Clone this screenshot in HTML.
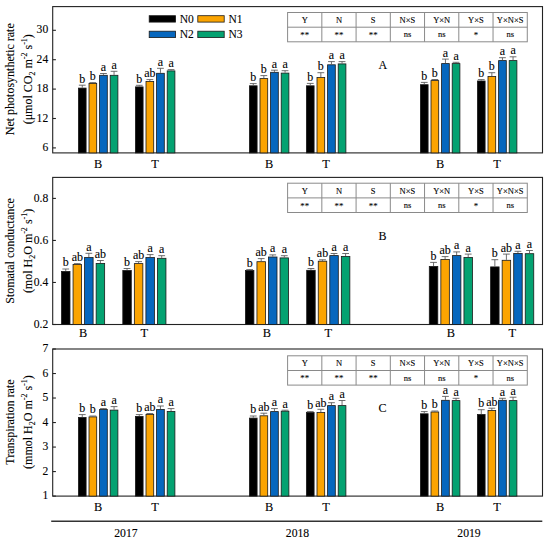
<!DOCTYPE html>
<html><head><meta charset="utf-8"><style>
html,body{margin:0;padding:0;background:#fff;width:550px;height:542px;overflow:hidden}
svg{display:block;font-family:"Liberation Serif",serif} text{stroke:#000;stroke-width:0.1px}
</style></head><body>
<svg width="550" height="542" viewBox="0 0 550 542" fill="#000">
<rect width="550" height="542" fill="#fff"/>
<rect x="52.7" y="6.6" width="489.8" height="146.3" fill="none" stroke="#222" stroke-width="1.1"/>
<line x1="52.7" y1="147.90" x2="55.9" y2="147.90" stroke="#222" stroke-width="1.1"/>
<text x="48.2" y="151.00" font-size="11.6" text-anchor="end">6</text>
<line x1="52.7" y1="118.50" x2="55.9" y2="118.50" stroke="#222" stroke-width="1.1"/>
<text x="48.2" y="121.60" font-size="11.6" text-anchor="end">12</text>
<line x1="52.7" y1="89.10" x2="55.9" y2="89.10" stroke="#222" stroke-width="1.1"/>
<text x="48.2" y="92.20" font-size="11.6" text-anchor="end">18</text>
<line x1="52.7" y1="59.70" x2="55.9" y2="59.70" stroke="#222" stroke-width="1.1"/>
<text x="48.2" y="62.80" font-size="11.6" text-anchor="end">24</text>
<line x1="52.7" y1="30.30" x2="55.9" y2="30.30" stroke="#222" stroke-width="1.1"/>
<text x="48.2" y="33.40" font-size="11.6" text-anchor="end">30</text>
<g stroke="#8a8a8a" stroke-width="1">
<rect x="287.6" y="12.5" width="239.68" height="29.30" fill="none"/>
<line x1="287.6" y1="27.20" x2="527.28" y2="27.20"/>
<line x1="321.84" y1="12.5" x2="321.84" y2="41.80"/>
<line x1="356.08" y1="12.5" x2="356.08" y2="41.80"/>
<line x1="390.32" y1="12.5" x2="390.32" y2="41.80"/>
<line x1="424.56" y1="12.5" x2="424.56" y2="41.80"/>
<line x1="458.80" y1="12.5" x2="458.80" y2="41.80"/>
<line x1="493.04" y1="12.5" x2="493.04" y2="41.80"/>
</g>
<text x="304.72" y="22.90" font-size="8.5" text-anchor="middle">Y</text>
<text x="304.72" y="37.80" font-size="8.8" text-anchor="middle">**</text>
<text x="338.96" y="22.90" font-size="8.5" text-anchor="middle">N</text>
<text x="338.96" y="37.80" font-size="8.8" text-anchor="middle">**</text>
<text x="373.20" y="22.90" font-size="8.5" text-anchor="middle">S</text>
<text x="373.20" y="37.80" font-size="8.8" text-anchor="middle">**</text>
<text x="407.44" y="22.90" font-size="8.5" text-anchor="middle">N×S</text>
<text x="407.44" y="37.40" font-size="8.5" text-anchor="middle">ns</text>
<text x="441.68" y="22.90" font-size="8.5" text-anchor="middle">Y×N</text>
<text x="441.68" y="37.40" font-size="8.5" text-anchor="middle">ns</text>
<text x="475.92" y="22.90" font-size="8.5" text-anchor="middle">Y×S</text>
<text x="475.92" y="37.80" font-size="8.8" text-anchor="middle">*</text>
<text x="510.16" y="22.90" font-size="8.5" text-anchor="middle">Y×N×S</text>
<text x="510.16" y="37.40" font-size="8.5" text-anchor="middle">ns</text>
<rect x="78.40" y="88.10" width="7.70" height="64.80" fill="#000000" stroke="#1a1a1a" stroke-width="0.8"/>
<line x1="82.25" y1="85.20" x2="82.25" y2="87.70" stroke="#555" stroke-width="0.85"/>
<line x1="78.85" y1="85.20" x2="85.65" y2="85.20" stroke="#555" stroke-width="0.85"/>
<text x="82.25" y="82.60" font-size="12" text-anchor="middle">b</text>
<rect x="89.00" y="83.40" width="7.70" height="69.50" fill="#FBA401" stroke="#1a1a1a" stroke-width="0.8"/>
<line x1="92.85" y1="82.60" x2="92.85" y2="83.00" stroke="#555" stroke-width="0.85"/>
<line x1="89.45" y1="82.60" x2="96.25" y2="82.60" stroke="#555" stroke-width="0.85"/>
<text x="92.85" y="80.00" font-size="12" text-anchor="middle">b</text>
<rect x="99.60" y="75.30" width="7.70" height="77.60" fill="#0667BE" stroke="#1a1a1a" stroke-width="0.8"/>
<line x1="103.45" y1="73.50" x2="103.45" y2="74.90" stroke="#555" stroke-width="0.85"/>
<line x1="100.05" y1="73.50" x2="106.85" y2="73.50" stroke="#555" stroke-width="0.85"/>
<text x="103.45" y="70.90" font-size="12" text-anchor="middle">a</text>
<rect x="110.20" y="75.30" width="7.70" height="77.60" fill="#04A271" stroke="#1a1a1a" stroke-width="0.8"/>
<line x1="114.05" y1="71.30" x2="114.05" y2="74.90" stroke="#555" stroke-width="0.85"/>
<line x1="110.65" y1="71.30" x2="117.45" y2="71.30" stroke="#555" stroke-width="0.85"/>
<text x="114.05" y="68.70" font-size="12" text-anchor="middle">a</text>
<rect x="135.40" y="86.90" width="7.70" height="66.00" fill="#000000" stroke="#1a1a1a" stroke-width="0.8"/>
<line x1="139.25" y1="85.30" x2="139.25" y2="86.50" stroke="#555" stroke-width="0.85"/>
<line x1="135.85" y1="85.30" x2="142.65" y2="85.30" stroke="#555" stroke-width="0.85"/>
<text x="139.25" y="82.70" font-size="12" text-anchor="middle">b</text>
<rect x="146.00" y="81.40" width="7.70" height="71.50" fill="#FBA401" stroke="#1a1a1a" stroke-width="0.8"/>
<line x1="149.85" y1="79.60" x2="149.85" y2="81.00" stroke="#555" stroke-width="0.85"/>
<line x1="146.45" y1="79.60" x2="153.25" y2="79.60" stroke="#555" stroke-width="0.85"/>
<text x="149.85" y="77.00" font-size="12" text-anchor="middle">ab</text>
<rect x="156.60" y="73.30" width="7.70" height="79.60" fill="#0667BE" stroke="#1a1a1a" stroke-width="0.8"/>
<line x1="160.45" y1="68.30" x2="160.45" y2="72.90" stroke="#555" stroke-width="0.85"/>
<line x1="157.05" y1="68.30" x2="163.85" y2="68.30" stroke="#555" stroke-width="0.85"/>
<text x="160.45" y="65.70" font-size="12" text-anchor="middle">a</text>
<rect x="167.20" y="70.90" width="7.70" height="82.00" fill="#04A271" stroke="#1a1a1a" stroke-width="0.8"/>
<line x1="171.05" y1="69.60" x2="171.05" y2="70.50" stroke="#555" stroke-width="0.85"/>
<line x1="167.65" y1="69.60" x2="174.45" y2="69.60" stroke="#555" stroke-width="0.85"/>
<text x="171.05" y="67.00" font-size="12" text-anchor="middle">a</text>
<rect x="249.40" y="85.80" width="7.70" height="67.10" fill="#000000" stroke="#1a1a1a" stroke-width="0.8"/>
<line x1="253.25" y1="83.60" x2="253.25" y2="85.40" stroke="#555" stroke-width="0.85"/>
<line x1="249.85" y1="83.60" x2="256.65" y2="83.60" stroke="#555" stroke-width="0.85"/>
<text x="253.25" y="81.00" font-size="12" text-anchor="middle">b</text>
<rect x="260.00" y="78.60" width="7.70" height="74.30" fill="#FBA401" stroke="#1a1a1a" stroke-width="0.8"/>
<line x1="263.85" y1="75.60" x2="263.85" y2="78.20" stroke="#555" stroke-width="0.85"/>
<line x1="260.45" y1="75.60" x2="267.25" y2="75.60" stroke="#555" stroke-width="0.85"/>
<text x="263.85" y="73.00" font-size="12" text-anchor="middle">b</text>
<rect x="270.60" y="72.30" width="7.70" height="80.60" fill="#0667BE" stroke="#1a1a1a" stroke-width="0.8"/>
<line x1="274.45" y1="70.20" x2="274.45" y2="71.90" stroke="#555" stroke-width="0.85"/>
<line x1="271.05" y1="70.20" x2="277.85" y2="70.20" stroke="#555" stroke-width="0.85"/>
<text x="274.45" y="67.60" font-size="12" text-anchor="middle">a</text>
<rect x="281.20" y="73.10" width="7.70" height="79.80" fill="#04A271" stroke="#1a1a1a" stroke-width="0.8"/>
<line x1="285.05" y1="70.70" x2="285.05" y2="72.70" stroke="#555" stroke-width="0.85"/>
<line x1="281.65" y1="70.70" x2="288.45" y2="70.70" stroke="#555" stroke-width="0.85"/>
<text x="285.05" y="68.10" font-size="12" text-anchor="middle">a</text>
<rect x="306.40" y="85.80" width="7.70" height="67.10" fill="#000000" stroke="#1a1a1a" stroke-width="0.8"/>
<line x1="310.25" y1="83.40" x2="310.25" y2="85.40" stroke="#555" stroke-width="0.85"/>
<line x1="306.85" y1="83.40" x2="313.65" y2="83.40" stroke="#555" stroke-width="0.85"/>
<text x="310.25" y="80.80" font-size="12" text-anchor="middle">b</text>
<rect x="317.00" y="77.50" width="7.70" height="75.40" fill="#FBA401" stroke="#1a1a1a" stroke-width="0.8"/>
<line x1="320.85" y1="72.70" x2="320.85" y2="77.10" stroke="#555" stroke-width="0.85"/>
<line x1="317.45" y1="72.70" x2="324.25" y2="72.70" stroke="#555" stroke-width="0.85"/>
<text x="320.85" y="70.10" font-size="12" text-anchor="middle">b</text>
<rect x="327.60" y="64.80" width="7.70" height="88.10" fill="#0667BE" stroke="#1a1a1a" stroke-width="0.8"/>
<line x1="331.45" y1="61.60" x2="331.45" y2="64.40" stroke="#555" stroke-width="0.85"/>
<line x1="328.05" y1="61.60" x2="334.85" y2="61.60" stroke="#555" stroke-width="0.85"/>
<text x="331.45" y="59.00" font-size="12" text-anchor="middle">a</text>
<rect x="338.20" y="63.90" width="7.70" height="89.00" fill="#04A271" stroke="#1a1a1a" stroke-width="0.8"/>
<line x1="342.05" y1="61.60" x2="342.05" y2="63.50" stroke="#555" stroke-width="0.85"/>
<line x1="338.65" y1="61.60" x2="345.45" y2="61.60" stroke="#555" stroke-width="0.85"/>
<text x="342.05" y="59.00" font-size="12" text-anchor="middle">a</text>
<rect x="420.40" y="84.70" width="7.70" height="68.20" fill="#000000" stroke="#1a1a1a" stroke-width="0.8"/>
<line x1="424.25" y1="82.40" x2="424.25" y2="84.30" stroke="#555" stroke-width="0.85"/>
<line x1="420.85" y1="82.40" x2="427.65" y2="82.40" stroke="#555" stroke-width="0.85"/>
<text x="424.25" y="79.80" font-size="12" text-anchor="middle">b</text>
<rect x="431.00" y="80.60" width="7.70" height="72.30" fill="#FBA401" stroke="#1a1a1a" stroke-width="0.8"/>
<line x1="434.85" y1="79.50" x2="434.85" y2="80.20" stroke="#555" stroke-width="0.85"/>
<line x1="431.45" y1="79.50" x2="438.25" y2="79.50" stroke="#555" stroke-width="0.85"/>
<text x="434.85" y="76.90" font-size="12" text-anchor="middle">b</text>
<rect x="441.60" y="63.60" width="7.70" height="89.30" fill="#0667BE" stroke="#1a1a1a" stroke-width="0.8"/>
<line x1="445.45" y1="59.10" x2="445.45" y2="63.20" stroke="#555" stroke-width="0.85"/>
<line x1="442.05" y1="59.10" x2="448.85" y2="59.10" stroke="#555" stroke-width="0.85"/>
<text x="445.45" y="56.50" font-size="12" text-anchor="middle">a</text>
<rect x="452.20" y="63.60" width="7.70" height="89.30" fill="#04A271" stroke="#1a1a1a" stroke-width="0.8"/>
<line x1="456.05" y1="62.30" x2="456.05" y2="63.20" stroke="#555" stroke-width="0.85"/>
<line x1="452.65" y1="62.30" x2="459.45" y2="62.30" stroke="#555" stroke-width="0.85"/>
<text x="456.05" y="59.70" font-size="12" text-anchor="middle">a</text>
<rect x="477.40" y="81.00" width="7.70" height="71.90" fill="#000000" stroke="#1a1a1a" stroke-width="0.8"/>
<line x1="481.25" y1="79.60" x2="481.25" y2="80.60" stroke="#555" stroke-width="0.85"/>
<line x1="477.85" y1="79.60" x2="484.65" y2="79.60" stroke="#555" stroke-width="0.85"/>
<text x="481.25" y="77.00" font-size="12" text-anchor="middle">b</text>
<rect x="488.00" y="76.40" width="7.70" height="76.50" fill="#FBA401" stroke="#1a1a1a" stroke-width="0.8"/>
<line x1="491.85" y1="72.70" x2="491.85" y2="76.00" stroke="#555" stroke-width="0.85"/>
<line x1="488.45" y1="72.70" x2="495.25" y2="72.70" stroke="#555" stroke-width="0.85"/>
<text x="491.85" y="70.10" font-size="12" text-anchor="middle">b</text>
<rect x="498.60" y="60.60" width="7.70" height="92.30" fill="#0667BE" stroke="#1a1a1a" stroke-width="0.8"/>
<line x1="502.45" y1="57.70" x2="502.45" y2="60.20" stroke="#555" stroke-width="0.85"/>
<line x1="499.05" y1="57.70" x2="505.85" y2="57.70" stroke="#555" stroke-width="0.85"/>
<text x="502.45" y="55.10" font-size="12" text-anchor="middle">a</text>
<rect x="509.20" y="60.60" width="7.70" height="92.30" fill="#04A271" stroke="#1a1a1a" stroke-width="0.8"/>
<line x1="513.05" y1="56.80" x2="513.05" y2="60.20" stroke="#555" stroke-width="0.85"/>
<line x1="509.65" y1="56.80" x2="516.45" y2="56.80" stroke="#555" stroke-width="0.85"/>
<text x="513.05" y="54.20" font-size="12" text-anchor="middle">a</text>
<text x="98.15" y="167.70" font-size="12.4" text-anchor="middle">B</text>
<text x="155.15" y="167.70" font-size="12.4" text-anchor="middle">T</text>
<text x="269.15" y="167.70" font-size="12.4" text-anchor="middle">B</text>
<text x="326.15" y="167.70" font-size="12.4" text-anchor="middle">T</text>
<text x="440.15" y="167.70" font-size="12.4" text-anchor="middle">B</text>
<text x="497.15" y="167.70" font-size="12.4" text-anchor="middle">T</text>
<text x="378.6" y="68.60" font-size="12">A</text>
<text transform="translate(14.4,79.25) rotate(-90)" font-size="12" text-anchor="middle">Net photosynthetic rate</text>
<text transform="translate(31.6,79.25) rotate(-90)" font-size="12" text-anchor="middle">(μmol CO<tspan font-size="8" dy="3">2</tspan><tspan dy="-3">​</tspan> m<tspan font-size="8" dy="-4.5">-2</tspan><tspan dy="4.5"> s</tspan><tspan font-size="8" dy="-4.5">-1</tspan><tspan dy="4.5">)</tspan></text>
<rect x="149.20" y="15.70" width="26.4" height="6.4" fill="#000000" stroke="#1a1a1a" stroke-width="0.8"/>
<text x="179.80" y="22.70" font-size="11.5">N0</text>
<rect x="197.80" y="15.70" width="26.4" height="6.4" fill="#FBA401" stroke="#1a1a1a" stroke-width="0.8"/>
<text x="228.40" y="22.70" font-size="11.5">N1</text>
<rect x="149.20" y="31.20" width="26.4" height="6.4" fill="#0667BE" stroke="#1a1a1a" stroke-width="0.8"/>
<text x="179.80" y="38.20" font-size="11.5">N2</text>
<rect x="197.80" y="31.20" width="26.4" height="6.4" fill="#04A271" stroke="#1a1a1a" stroke-width="0.8"/>
<text x="228.40" y="38.20" font-size="11.5">N3</text>
<rect x="52.7" y="177.4" width="489.8" height="147.1" fill="none" stroke="#222" stroke-width="1.1"/>
<line x1="52.7" y1="324.50" x2="55.9" y2="324.50" stroke="#222" stroke-width="1.1"/>
<text x="48.2" y="327.60" font-size="11.6" text-anchor="end">0.2</text>
<line x1="52.7" y1="282.47" x2="55.9" y2="282.47" stroke="#222" stroke-width="1.1"/>
<text x="48.2" y="285.57" font-size="11.6" text-anchor="end">0.4</text>
<line x1="52.7" y1="240.44" x2="55.9" y2="240.44" stroke="#222" stroke-width="1.1"/>
<text x="48.2" y="243.54" font-size="11.6" text-anchor="end">0.6</text>
<line x1="52.7" y1="198.41" x2="55.9" y2="198.41" stroke="#222" stroke-width="1.1"/>
<text x="48.2" y="201.51" font-size="11.6" text-anchor="end">0.8</text>
<g stroke="#8a8a8a" stroke-width="1">
<rect x="287.6" y="183.20000000000002" width="239.68" height="29.30" fill="none"/>
<line x1="287.6" y1="197.90" x2="527.28" y2="197.90"/>
<line x1="321.84" y1="183.20000000000002" x2="321.84" y2="212.50"/>
<line x1="356.08" y1="183.20000000000002" x2="356.08" y2="212.50"/>
<line x1="390.32" y1="183.20000000000002" x2="390.32" y2="212.50"/>
<line x1="424.56" y1="183.20000000000002" x2="424.56" y2="212.50"/>
<line x1="458.80" y1="183.20000000000002" x2="458.80" y2="212.50"/>
<line x1="493.04" y1="183.20000000000002" x2="493.04" y2="212.50"/>
</g>
<text x="304.72" y="193.60" font-size="8.5" text-anchor="middle">Y</text>
<text x="304.72" y="208.50" font-size="8.8" text-anchor="middle">**</text>
<text x="338.96" y="193.60" font-size="8.5" text-anchor="middle">N</text>
<text x="338.96" y="208.50" font-size="8.8" text-anchor="middle">**</text>
<text x="373.20" y="193.60" font-size="8.5" text-anchor="middle">S</text>
<text x="373.20" y="208.50" font-size="8.8" text-anchor="middle">**</text>
<text x="407.44" y="193.60" font-size="8.5" text-anchor="middle">N×S</text>
<text x="407.44" y="208.10" font-size="8.5" text-anchor="middle">ns</text>
<text x="441.68" y="193.60" font-size="8.5" text-anchor="middle">Y×N</text>
<text x="441.68" y="208.10" font-size="8.5" text-anchor="middle">ns</text>
<text x="475.92" y="193.60" font-size="8.5" text-anchor="middle">Y×S</text>
<text x="475.92" y="208.50" font-size="8.8" text-anchor="middle">*</text>
<text x="510.16" y="193.60" font-size="8.5" text-anchor="middle">Y×N×S</text>
<text x="510.16" y="208.10" font-size="8.5" text-anchor="middle">ns</text>
<rect x="61.50" y="271.40" width="8.50" height="53.10" fill="#000000" stroke="#1a1a1a" stroke-width="0.8"/>
<line x1="65.75" y1="269.00" x2="65.75" y2="271.00" stroke="#555" stroke-width="0.85"/>
<line x1="62.35" y1="269.00" x2="69.15" y2="269.00" stroke="#555" stroke-width="0.85"/>
<text x="65.75" y="266.40" font-size="12" text-anchor="middle">b</text>
<rect x="73.05" y="264.50" width="8.50" height="60.00" fill="#FBA401" stroke="#1a1a1a" stroke-width="0.8"/>
<line x1="77.30" y1="263.60" x2="77.30" y2="264.10" stroke="#555" stroke-width="0.85"/>
<line x1="73.90" y1="263.60" x2="80.70" y2="263.60" stroke="#555" stroke-width="0.85"/>
<text x="77.30" y="261.00" font-size="12" text-anchor="middle">ab</text>
<rect x="84.60" y="257.50" width="8.50" height="67.00" fill="#0667BE" stroke="#1a1a1a" stroke-width="0.8"/>
<line x1="88.85" y1="253.30" x2="88.85" y2="257.10" stroke="#555" stroke-width="0.85"/>
<line x1="85.45" y1="253.30" x2="92.25" y2="253.30" stroke="#555" stroke-width="0.85"/>
<text x="88.85" y="250.70" font-size="12" text-anchor="middle">a</text>
<rect x="96.15" y="263.40" width="8.50" height="61.10" fill="#04A271" stroke="#1a1a1a" stroke-width="0.8"/>
<line x1="100.40" y1="260.50" x2="100.40" y2="263.00" stroke="#555" stroke-width="0.85"/>
<line x1="97.00" y1="260.50" x2="103.80" y2="260.50" stroke="#555" stroke-width="0.85"/>
<text x="100.40" y="257.90" font-size="12" text-anchor="middle">ab</text>
<rect x="122.80" y="270.50" width="8.50" height="54.00" fill="#000000" stroke="#1a1a1a" stroke-width="0.8"/>
<line x1="127.05" y1="268.50" x2="127.05" y2="270.10" stroke="#555" stroke-width="0.85"/>
<line x1="123.65" y1="268.50" x2="130.45" y2="268.50" stroke="#555" stroke-width="0.85"/>
<text x="127.05" y="265.90" font-size="12" text-anchor="middle">b</text>
<rect x="134.35" y="263.60" width="8.50" height="60.90" fill="#FBA401" stroke="#1a1a1a" stroke-width="0.8"/>
<line x1="138.60" y1="261.60" x2="138.60" y2="263.20" stroke="#555" stroke-width="0.85"/>
<line x1="135.20" y1="261.60" x2="142.00" y2="261.60" stroke="#555" stroke-width="0.85"/>
<text x="138.60" y="259.00" font-size="12" text-anchor="middle">ab</text>
<rect x="145.90" y="257.50" width="8.50" height="67.00" fill="#0667BE" stroke="#1a1a1a" stroke-width="0.8"/>
<line x1="150.15" y1="254.60" x2="150.15" y2="257.10" stroke="#555" stroke-width="0.85"/>
<line x1="146.75" y1="254.60" x2="153.55" y2="254.60" stroke="#555" stroke-width="0.85"/>
<text x="150.15" y="252.00" font-size="12" text-anchor="middle">a</text>
<rect x="157.45" y="258.30" width="8.50" height="66.20" fill="#04A271" stroke="#1a1a1a" stroke-width="0.8"/>
<line x1="161.70" y1="255.70" x2="161.70" y2="257.90" stroke="#555" stroke-width="0.85"/>
<line x1="158.30" y1="255.70" x2="165.10" y2="255.70" stroke="#555" stroke-width="0.85"/>
<text x="161.70" y="253.10" font-size="12" text-anchor="middle">a</text>
<rect x="245.40" y="270.50" width="8.50" height="54.00" fill="#000000" stroke="#1a1a1a" stroke-width="0.8"/>
<line x1="249.65" y1="269.60" x2="249.65" y2="270.10" stroke="#555" stroke-width="0.85"/>
<line x1="246.25" y1="269.60" x2="253.05" y2="269.60" stroke="#555" stroke-width="0.85"/>
<text x="249.65" y="267.00" font-size="12" text-anchor="middle">b</text>
<rect x="256.95" y="261.70" width="8.50" height="62.80" fill="#FBA401" stroke="#1a1a1a" stroke-width="0.8"/>
<line x1="261.20" y1="258.60" x2="261.20" y2="261.30" stroke="#555" stroke-width="0.85"/>
<line x1="257.80" y1="258.60" x2="264.60" y2="258.60" stroke="#555" stroke-width="0.85"/>
<text x="261.20" y="256.00" font-size="12" text-anchor="middle">ab</text>
<rect x="268.50" y="257.00" width="8.50" height="67.50" fill="#0667BE" stroke="#1a1a1a" stroke-width="0.8"/>
<line x1="272.75" y1="254.90" x2="272.75" y2="256.60" stroke="#555" stroke-width="0.85"/>
<line x1="269.35" y1="254.90" x2="276.15" y2="254.90" stroke="#555" stroke-width="0.85"/>
<text x="272.75" y="252.30" font-size="12" text-anchor="middle">a</text>
<rect x="280.05" y="257.90" width="8.50" height="66.60" fill="#04A271" stroke="#1a1a1a" stroke-width="0.8"/>
<line x1="284.30" y1="255.70" x2="284.30" y2="257.50" stroke="#555" stroke-width="0.85"/>
<line x1="280.90" y1="255.70" x2="287.70" y2="255.70" stroke="#555" stroke-width="0.85"/>
<text x="284.30" y="253.10" font-size="12" text-anchor="middle">a</text>
<rect x="306.70" y="270.30" width="8.50" height="54.20" fill="#000000" stroke="#1a1a1a" stroke-width="0.8"/>
<line x1="310.95" y1="268.50" x2="310.95" y2="269.90" stroke="#555" stroke-width="0.85"/>
<line x1="307.55" y1="268.50" x2="314.35" y2="268.50" stroke="#555" stroke-width="0.85"/>
<text x="310.95" y="265.90" font-size="12" text-anchor="middle">b</text>
<rect x="318.25" y="261.20" width="8.50" height="63.30" fill="#FBA401" stroke="#1a1a1a" stroke-width="0.8"/>
<line x1="322.50" y1="259.80" x2="322.50" y2="260.80" stroke="#555" stroke-width="0.85"/>
<line x1="319.10" y1="259.80" x2="325.90" y2="259.80" stroke="#555" stroke-width="0.85"/>
<text x="322.50" y="257.20" font-size="12" text-anchor="middle">ab</text>
<rect x="329.80" y="255.60" width="8.50" height="68.90" fill="#0667BE" stroke="#1a1a1a" stroke-width="0.8"/>
<line x1="334.05" y1="253.50" x2="334.05" y2="255.20" stroke="#555" stroke-width="0.85"/>
<line x1="330.65" y1="253.50" x2="337.45" y2="253.50" stroke="#555" stroke-width="0.85"/>
<text x="334.05" y="250.90" font-size="12" text-anchor="middle">a</text>
<rect x="341.35" y="256.40" width="8.50" height="68.10" fill="#04A271" stroke="#1a1a1a" stroke-width="0.8"/>
<line x1="345.60" y1="253.50" x2="345.60" y2="256.00" stroke="#555" stroke-width="0.85"/>
<line x1="342.20" y1="253.50" x2="349.00" y2="253.50" stroke="#555" stroke-width="0.85"/>
<text x="345.60" y="250.90" font-size="12" text-anchor="middle">a</text>
<rect x="429.30" y="266.40" width="8.50" height="58.10" fill="#000000" stroke="#1a1a1a" stroke-width="0.8"/>
<line x1="433.55" y1="262.40" x2="433.55" y2="266.00" stroke="#555" stroke-width="0.85"/>
<line x1="430.15" y1="262.40" x2="436.95" y2="262.40" stroke="#555" stroke-width="0.85"/>
<text x="433.55" y="259.80" font-size="12" text-anchor="middle">b</text>
<rect x="440.85" y="259.40" width="8.50" height="65.10" fill="#FBA401" stroke="#1a1a1a" stroke-width="0.8"/>
<line x1="445.10" y1="256.60" x2="445.10" y2="259.00" stroke="#555" stroke-width="0.85"/>
<line x1="441.70" y1="256.60" x2="448.50" y2="256.60" stroke="#555" stroke-width="0.85"/>
<text x="445.10" y="254.00" font-size="12" text-anchor="middle">ab</text>
<rect x="452.40" y="255.60" width="8.50" height="68.90" fill="#0667BE" stroke="#1a1a1a" stroke-width="0.8"/>
<line x1="456.65" y1="251.90" x2="456.65" y2="255.20" stroke="#555" stroke-width="0.85"/>
<line x1="453.25" y1="251.90" x2="460.05" y2="251.90" stroke="#555" stroke-width="0.85"/>
<text x="456.65" y="249.30" font-size="12" text-anchor="middle">a</text>
<rect x="463.95" y="257.50" width="8.50" height="67.00" fill="#04A271" stroke="#1a1a1a" stroke-width="0.8"/>
<line x1="468.20" y1="254.10" x2="468.20" y2="257.10" stroke="#555" stroke-width="0.85"/>
<line x1="464.80" y1="254.10" x2="471.60" y2="254.10" stroke="#555" stroke-width="0.85"/>
<text x="468.20" y="251.50" font-size="12" text-anchor="middle">a</text>
<rect x="490.60" y="266.90" width="8.50" height="57.60" fill="#000000" stroke="#1a1a1a" stroke-width="0.8"/>
<line x1="494.85" y1="259.70" x2="494.85" y2="266.50" stroke="#555" stroke-width="0.85"/>
<line x1="491.45" y1="259.70" x2="498.25" y2="259.70" stroke="#555" stroke-width="0.85"/>
<text x="494.85" y="257.10" font-size="12" text-anchor="middle">b</text>
<rect x="502.15" y="260.30" width="8.50" height="64.20" fill="#FBA401" stroke="#1a1a1a" stroke-width="0.8"/>
<line x1="506.40" y1="254.10" x2="506.40" y2="259.90" stroke="#555" stroke-width="0.85"/>
<line x1="503.00" y1="254.10" x2="509.80" y2="254.10" stroke="#555" stroke-width="0.85"/>
<text x="506.40" y="251.50" font-size="12" text-anchor="middle">ab</text>
<rect x="513.70" y="253.40" width="8.50" height="71.10" fill="#0667BE" stroke="#1a1a1a" stroke-width="0.8"/>
<line x1="517.95" y1="251.30" x2="517.95" y2="253.00" stroke="#555" stroke-width="0.85"/>
<line x1="514.55" y1="251.30" x2="521.35" y2="251.30" stroke="#555" stroke-width="0.85"/>
<text x="517.95" y="248.70" font-size="12" text-anchor="middle">a</text>
<rect x="525.25" y="253.70" width="8.50" height="70.80" fill="#04A271" stroke="#1a1a1a" stroke-width="0.8"/>
<line x1="529.50" y1="250.50" x2="529.50" y2="253.30" stroke="#555" stroke-width="0.85"/>
<line x1="526.10" y1="250.50" x2="532.90" y2="250.50" stroke="#555" stroke-width="0.85"/>
<text x="529.50" y="247.90" font-size="12" text-anchor="middle">a</text>
<text x="83.08" y="337.00" font-size="12.4" text-anchor="middle">B</text>
<text x="144.38" y="337.00" font-size="12.4" text-anchor="middle">T</text>
<text x="266.97" y="337.00" font-size="12.4" text-anchor="middle">B</text>
<text x="328.28" y="337.00" font-size="12.4" text-anchor="middle">T</text>
<text x="450.88" y="337.00" font-size="12.4" text-anchor="middle">B</text>
<text x="512.17" y="337.00" font-size="12.4" text-anchor="middle">T</text>
<text x="378.6" y="239.80" font-size="12">B</text>
<text transform="translate(14.4,250.95) rotate(-90)" font-size="12" text-anchor="middle">Stomatal conductance</text>
<text transform="translate(31.6,250.95) rotate(-90)" font-size="12" text-anchor="middle">(mol H<tspan font-size="8" dy="3">2</tspan><tspan dy="-3">​</tspan>O m<tspan font-size="8" dy="-4.5">-2</tspan><tspan dy="4.5"> s</tspan><tspan font-size="8" dy="-4.5">-1</tspan><tspan dy="4.5">)</tspan></text>
<rect x="52.7" y="349.0" width="489.8" height="147.10000000000002" fill="none" stroke="#222" stroke-width="1.1"/>
<line x1="52.7" y1="496.10" x2="55.9" y2="496.10" stroke="#222" stroke-width="1.1"/>
<text x="48.2" y="499.20" font-size="11.6" text-anchor="end">1</text>
<line x1="52.7" y1="471.58" x2="55.9" y2="471.58" stroke="#222" stroke-width="1.1"/>
<text x="48.2" y="474.68" font-size="11.6" text-anchor="end">2</text>
<line x1="52.7" y1="447.07" x2="55.9" y2="447.07" stroke="#222" stroke-width="1.1"/>
<text x="48.2" y="450.17" font-size="11.6" text-anchor="end">3</text>
<line x1="52.7" y1="422.55" x2="55.9" y2="422.55" stroke="#222" stroke-width="1.1"/>
<text x="48.2" y="425.65" font-size="11.6" text-anchor="end">4</text>
<line x1="52.7" y1="398.03" x2="55.9" y2="398.03" stroke="#222" stroke-width="1.1"/>
<text x="48.2" y="401.13" font-size="11.6" text-anchor="end">5</text>
<line x1="52.7" y1="373.52" x2="55.9" y2="373.52" stroke="#222" stroke-width="1.1"/>
<text x="48.2" y="376.62" font-size="11.6" text-anchor="end">6</text>
<line x1="52.7" y1="349.00" x2="55.9" y2="349.00" stroke="#222" stroke-width="1.1"/>
<text x="48.2" y="352.10" font-size="11.6" text-anchor="end">7</text>
<g stroke="#8a8a8a" stroke-width="1">
<rect x="287.6" y="355.8" width="239.68" height="29.30" fill="none"/>
<line x1="287.6" y1="370.50" x2="527.28" y2="370.50"/>
<line x1="321.84" y1="355.8" x2="321.84" y2="385.10"/>
<line x1="356.08" y1="355.8" x2="356.08" y2="385.10"/>
<line x1="390.32" y1="355.8" x2="390.32" y2="385.10"/>
<line x1="424.56" y1="355.8" x2="424.56" y2="385.10"/>
<line x1="458.80" y1="355.8" x2="458.80" y2="385.10"/>
<line x1="493.04" y1="355.8" x2="493.04" y2="385.10"/>
</g>
<text x="304.72" y="366.20" font-size="8.5" text-anchor="middle">Y</text>
<text x="304.72" y="381.10" font-size="8.8" text-anchor="middle">**</text>
<text x="338.96" y="366.20" font-size="8.5" text-anchor="middle">N</text>
<text x="338.96" y="381.10" font-size="8.8" text-anchor="middle">**</text>
<text x="373.20" y="366.20" font-size="8.5" text-anchor="middle">S</text>
<text x="373.20" y="381.10" font-size="8.8" text-anchor="middle">**</text>
<text x="407.44" y="366.20" font-size="8.5" text-anchor="middle">N×S</text>
<text x="407.44" y="380.70" font-size="8.5" text-anchor="middle">ns</text>
<text x="441.68" y="366.20" font-size="8.5" text-anchor="middle">Y×N</text>
<text x="441.68" y="380.70" font-size="8.5" text-anchor="middle">ns</text>
<text x="475.92" y="366.20" font-size="8.5" text-anchor="middle">Y×S</text>
<text x="475.92" y="381.10" font-size="8.8" text-anchor="middle">*</text>
<text x="510.16" y="366.20" font-size="8.5" text-anchor="middle">Y×N×S</text>
<text x="510.16" y="380.70" font-size="8.5" text-anchor="middle">ns</text>
<rect x="78.40" y="417.50" width="7.70" height="78.60" fill="#000000" stroke="#1a1a1a" stroke-width="0.8"/>
<line x1="82.25" y1="414.60" x2="82.25" y2="417.10" stroke="#555" stroke-width="0.85"/>
<line x1="78.85" y1="414.60" x2="85.65" y2="414.60" stroke="#555" stroke-width="0.85"/>
<text x="82.25" y="412.00" font-size="12" text-anchor="middle">b</text>
<rect x="89.00" y="416.90" width="7.70" height="79.20" fill="#FBA401" stroke="#1a1a1a" stroke-width="0.8"/>
<line x1="92.85" y1="416.00" x2="92.85" y2="416.50" stroke="#555" stroke-width="0.85"/>
<line x1="89.45" y1="416.00" x2="96.25" y2="416.00" stroke="#555" stroke-width="0.85"/>
<text x="92.85" y="413.40" font-size="12" text-anchor="middle">b</text>
<rect x="99.60" y="409.40" width="7.70" height="86.70" fill="#0667BE" stroke="#1a1a1a" stroke-width="0.8"/>
<line x1="103.45" y1="408.60" x2="103.45" y2="409.00" stroke="#555" stroke-width="0.85"/>
<line x1="100.05" y1="408.60" x2="106.85" y2="408.60" stroke="#555" stroke-width="0.85"/>
<text x="103.45" y="406.00" font-size="12" text-anchor="middle">a</text>
<rect x="110.20" y="410.10" width="7.70" height="86.00" fill="#04A271" stroke="#1a1a1a" stroke-width="0.8"/>
<line x1="114.05" y1="406.60" x2="114.05" y2="409.70" stroke="#555" stroke-width="0.85"/>
<line x1="110.65" y1="406.60" x2="117.45" y2="406.60" stroke="#555" stroke-width="0.85"/>
<text x="114.05" y="404.00" font-size="12" text-anchor="middle">a</text>
<rect x="135.40" y="416.40" width="7.70" height="79.70" fill="#000000" stroke="#1a1a1a" stroke-width="0.8"/>
<line x1="139.25" y1="414.60" x2="139.25" y2="416.00" stroke="#555" stroke-width="0.85"/>
<line x1="135.85" y1="414.60" x2="142.65" y2="414.60" stroke="#555" stroke-width="0.85"/>
<text x="139.25" y="412.00" font-size="12" text-anchor="middle">b</text>
<rect x="146.00" y="414.50" width="7.70" height="81.60" fill="#FBA401" stroke="#1a1a1a" stroke-width="0.8"/>
<line x1="149.85" y1="413.50" x2="149.85" y2="414.10" stroke="#555" stroke-width="0.85"/>
<line x1="146.45" y1="413.50" x2="153.25" y2="413.50" stroke="#555" stroke-width="0.85"/>
<text x="149.85" y="410.90" font-size="12" text-anchor="middle">ab</text>
<rect x="156.60" y="409.40" width="7.70" height="86.70" fill="#0667BE" stroke="#1a1a1a" stroke-width="0.8"/>
<line x1="160.45" y1="406.00" x2="160.45" y2="409.00" stroke="#555" stroke-width="0.85"/>
<line x1="157.05" y1="406.00" x2="163.85" y2="406.00" stroke="#555" stroke-width="0.85"/>
<text x="160.45" y="403.40" font-size="12" text-anchor="middle">a</text>
<rect x="167.20" y="411.40" width="7.70" height="84.70" fill="#04A271" stroke="#1a1a1a" stroke-width="0.8"/>
<line x1="171.05" y1="408.60" x2="171.05" y2="411.00" stroke="#555" stroke-width="0.85"/>
<line x1="167.65" y1="408.60" x2="174.45" y2="408.60" stroke="#555" stroke-width="0.85"/>
<text x="171.05" y="406.00" font-size="12" text-anchor="middle">a</text>
<rect x="249.40" y="418.10" width="7.70" height="78.00" fill="#000000" stroke="#1a1a1a" stroke-width="0.8"/>
<line x1="253.25" y1="416.00" x2="253.25" y2="417.70" stroke="#555" stroke-width="0.85"/>
<line x1="249.85" y1="416.00" x2="256.65" y2="416.00" stroke="#555" stroke-width="0.85"/>
<text x="253.25" y="413.40" font-size="12" text-anchor="middle">b</text>
<rect x="260.00" y="415.80" width="7.70" height="80.30" fill="#FBA401" stroke="#1a1a1a" stroke-width="0.8"/>
<line x1="263.85" y1="413.20" x2="263.85" y2="415.40" stroke="#555" stroke-width="0.85"/>
<line x1="260.45" y1="413.20" x2="267.25" y2="413.20" stroke="#555" stroke-width="0.85"/>
<text x="263.85" y="410.60" font-size="12" text-anchor="middle">ab</text>
<rect x="270.60" y="411.60" width="7.70" height="84.50" fill="#0667BE" stroke="#1a1a1a" stroke-width="0.8"/>
<line x1="274.45" y1="408.60" x2="274.45" y2="411.20" stroke="#555" stroke-width="0.85"/>
<line x1="271.05" y1="408.60" x2="277.85" y2="408.60" stroke="#555" stroke-width="0.85"/>
<text x="274.45" y="406.00" font-size="12" text-anchor="middle">a</text>
<rect x="281.20" y="411.20" width="7.70" height="84.90" fill="#04A271" stroke="#1a1a1a" stroke-width="0.8"/>
<line x1="285.05" y1="410.20" x2="285.05" y2="410.80" stroke="#555" stroke-width="0.85"/>
<line x1="281.65" y1="410.20" x2="288.45" y2="410.20" stroke="#555" stroke-width="0.85"/>
<text x="285.05" y="407.60" font-size="12" text-anchor="middle">a</text>
<rect x="306.40" y="412.50" width="7.70" height="83.60" fill="#000000" stroke="#1a1a1a" stroke-width="0.8"/>
<line x1="310.25" y1="411.60" x2="310.25" y2="412.10" stroke="#555" stroke-width="0.85"/>
<line x1="306.85" y1="411.60" x2="313.65" y2="411.60" stroke="#555" stroke-width="0.85"/>
<text x="310.25" y="409.00" font-size="12" text-anchor="middle">b</text>
<rect x="317.00" y="412.50" width="7.70" height="83.60" fill="#FBA401" stroke="#1a1a1a" stroke-width="0.8"/>
<line x1="320.85" y1="409.30" x2="320.85" y2="412.10" stroke="#555" stroke-width="0.85"/>
<line x1="317.45" y1="409.30" x2="324.25" y2="409.30" stroke="#555" stroke-width="0.85"/>
<text x="320.85" y="406.70" font-size="12" text-anchor="middle">ab</text>
<rect x="327.60" y="405.60" width="7.70" height="90.50" fill="#0667BE" stroke="#1a1a1a" stroke-width="0.8"/>
<line x1="331.45" y1="402.70" x2="331.45" y2="405.20" stroke="#555" stroke-width="0.85"/>
<line x1="328.05" y1="402.70" x2="334.85" y2="402.70" stroke="#555" stroke-width="0.85"/>
<text x="331.45" y="400.10" font-size="12" text-anchor="middle">a</text>
<rect x="338.20" y="405.60" width="7.70" height="90.50" fill="#04A271" stroke="#1a1a1a" stroke-width="0.8"/>
<line x1="342.05" y1="400.50" x2="342.05" y2="405.20" stroke="#555" stroke-width="0.85"/>
<line x1="338.65" y1="400.50" x2="345.45" y2="400.50" stroke="#555" stroke-width="0.85"/>
<text x="342.05" y="397.90" font-size="12" text-anchor="middle">a</text>
<rect x="420.40" y="413.80" width="7.70" height="82.30" fill="#000000" stroke="#1a1a1a" stroke-width="0.8"/>
<line x1="424.25" y1="411.60" x2="424.25" y2="413.40" stroke="#555" stroke-width="0.85"/>
<line x1="420.85" y1="411.60" x2="427.65" y2="411.60" stroke="#555" stroke-width="0.85"/>
<text x="424.25" y="409.00" font-size="12" text-anchor="middle">b</text>
<rect x="431.00" y="412.00" width="7.70" height="84.10" fill="#FBA401" stroke="#1a1a1a" stroke-width="0.8"/>
<line x1="434.85" y1="411.00" x2="434.85" y2="411.60" stroke="#555" stroke-width="0.85"/>
<line x1="431.45" y1="411.00" x2="438.25" y2="411.00" stroke="#555" stroke-width="0.85"/>
<text x="434.85" y="408.40" font-size="12" text-anchor="middle">b</text>
<rect x="441.60" y="400.30" width="7.70" height="95.80" fill="#0667BE" stroke="#1a1a1a" stroke-width="0.8"/>
<line x1="445.45" y1="396.40" x2="445.45" y2="399.90" stroke="#555" stroke-width="0.85"/>
<line x1="442.05" y1="396.40" x2="448.85" y2="396.40" stroke="#555" stroke-width="0.85"/>
<text x="445.45" y="393.80" font-size="12" text-anchor="middle">a</text>
<rect x="452.20" y="400.60" width="7.70" height="95.50" fill="#04A271" stroke="#1a1a1a" stroke-width="0.8"/>
<line x1="456.05" y1="398.30" x2="456.05" y2="400.20" stroke="#555" stroke-width="0.85"/>
<line x1="452.65" y1="398.30" x2="459.45" y2="398.30" stroke="#555" stroke-width="0.85"/>
<text x="456.05" y="395.70" font-size="12" text-anchor="middle">a</text>
<rect x="477.40" y="414.50" width="7.70" height="81.60" fill="#000000" stroke="#1a1a1a" stroke-width="0.8"/>
<line x1="481.25" y1="409.70" x2="481.25" y2="414.10" stroke="#555" stroke-width="0.85"/>
<line x1="477.85" y1="409.70" x2="484.65" y2="409.70" stroke="#555" stroke-width="0.85"/>
<text x="481.25" y="407.10" font-size="12" text-anchor="middle">b</text>
<rect x="488.00" y="410.50" width="7.70" height="85.60" fill="#FBA401" stroke="#1a1a1a" stroke-width="0.8"/>
<line x1="491.85" y1="408.20" x2="491.85" y2="410.10" stroke="#555" stroke-width="0.85"/>
<line x1="488.45" y1="408.20" x2="495.25" y2="408.20" stroke="#555" stroke-width="0.85"/>
<text x="491.85" y="405.60" font-size="12" text-anchor="middle">ab</text>
<rect x="498.60" y="400.30" width="7.70" height="95.80" fill="#0667BE" stroke="#1a1a1a" stroke-width="0.8"/>
<line x1="502.45" y1="398.30" x2="502.45" y2="399.90" stroke="#555" stroke-width="0.85"/>
<line x1="499.05" y1="398.30" x2="505.85" y2="398.30" stroke="#555" stroke-width="0.85"/>
<text x="502.45" y="395.70" font-size="12" text-anchor="middle">a</text>
<rect x="509.20" y="400.60" width="7.70" height="95.50" fill="#04A271" stroke="#1a1a1a" stroke-width="0.8"/>
<line x1="513.05" y1="397.20" x2="513.05" y2="400.20" stroke="#555" stroke-width="0.85"/>
<line x1="509.65" y1="397.20" x2="516.45" y2="397.20" stroke="#555" stroke-width="0.85"/>
<text x="513.05" y="394.60" font-size="12" text-anchor="middle">a</text>
<text x="98.15" y="510.70" font-size="12.4" text-anchor="middle">B</text>
<text x="155.15" y="510.70" font-size="12.4" text-anchor="middle">T</text>
<text x="269.15" y="510.70" font-size="12.4" text-anchor="middle">B</text>
<text x="326.15" y="510.70" font-size="12.4" text-anchor="middle">T</text>
<text x="440.15" y="510.70" font-size="12.4" text-anchor="middle">B</text>
<text x="497.15" y="510.70" font-size="12.4" text-anchor="middle">T</text>
<text x="378.6" y="411.50" font-size="12">C</text>
<text transform="translate(14.4,422.05) rotate(-90)" font-size="12" text-anchor="middle">Transpiration rate</text>
<text transform="translate(31.6,422.05) rotate(-90)" font-size="12" text-anchor="middle">(mmol H<tspan font-size="8" dy="3">2</tspan><tspan dy="-3">​</tspan>O m<tspan font-size="8" dy="-4.5">-2</tspan><tspan dy="4.5"> s</tspan><tspan font-size="8" dy="-4.5">-1</tspan><tspan dy="4.5">)</tspan></text>
<line x1="51.2" y1="521.2" x2="542.3" y2="521.2" stroke="#333" stroke-width="1.5"/>
<text x="125.9" y="536.6" font-size="11.7" text-anchor="middle">2017</text>
<text x="297.5" y="536.6" font-size="11.7" text-anchor="middle">2018</text>
<text x="469.0" y="536.6" font-size="11.7" text-anchor="middle">2019</text>
</svg>
</body></html>
